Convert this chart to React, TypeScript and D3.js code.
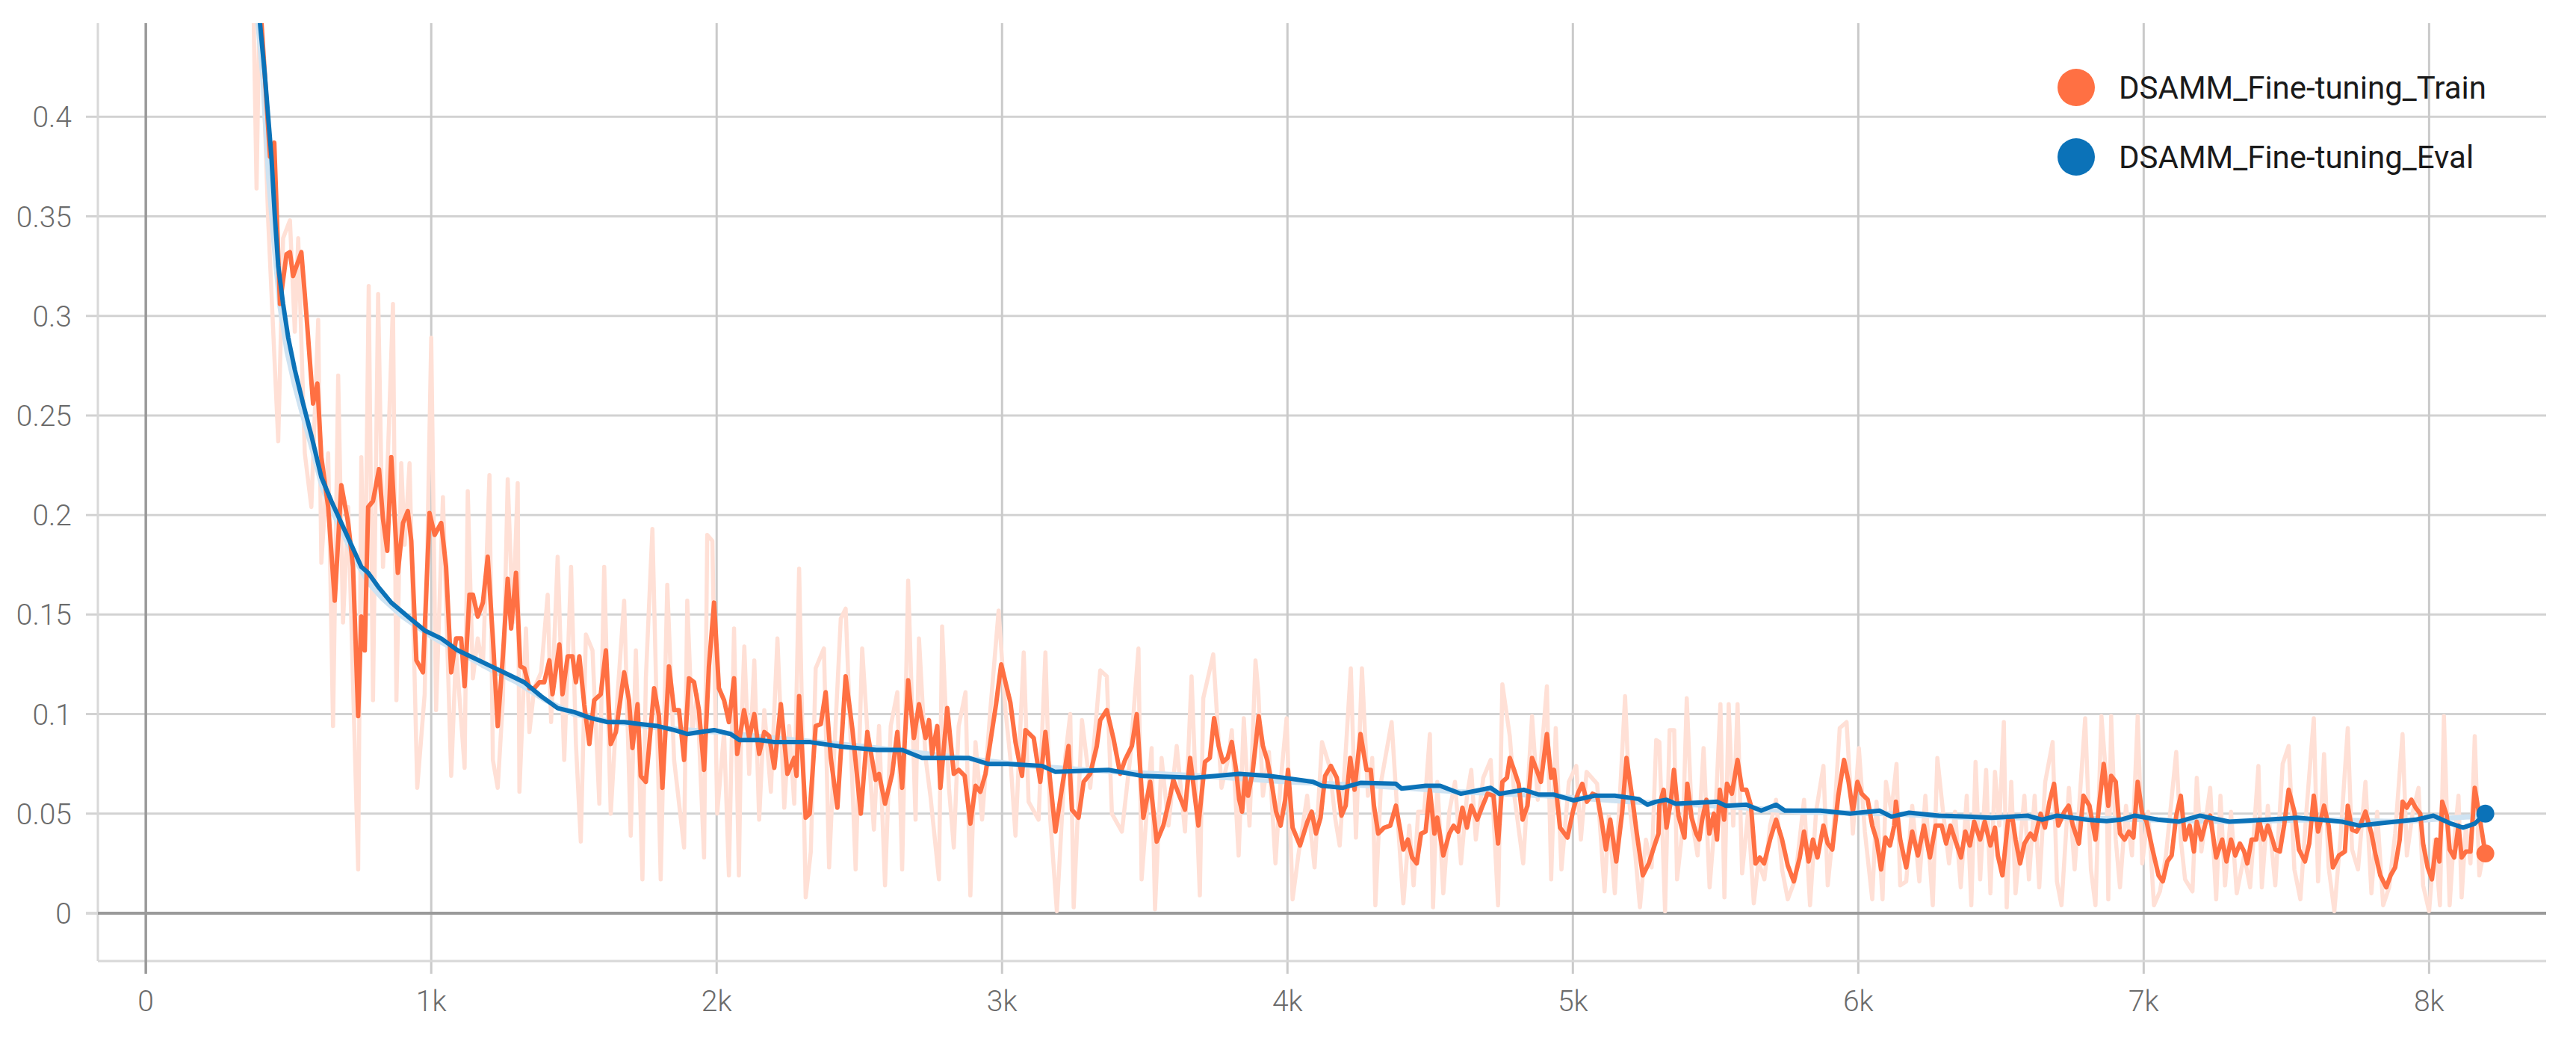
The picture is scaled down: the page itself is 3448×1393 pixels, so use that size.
import React from 'react';
import * as d3 from 'd3';

// training curves: [step, loss]
const trainSmoothed: Array<[number, number]> = [
  [360, 0.56], [395, 0.47], [417, 0.421], [435, 0.38], [450, 0.387], [470, 0.306], [493, 0.331], [505, 0.332],
  [516, 0.32], [528, 0.325], [545, 0.332], [563, 0.3], [586, 0.256], [601, 0.266], [615, 0.229], [639, 0.204],
  [662, 0.157], [685, 0.215], [709, 0.196], [726, 0.174], [744, 0.099], [755, 0.149], [767, 0.132], [779, 0.204],
  [796, 0.207], [817, 0.223], [831, 0.198], [846, 0.182], [860, 0.229], [883, 0.171], [901, 0.196], [918, 0.202],
  [930, 0.187], [948, 0.127], [971, 0.121], [994, 0.201], [1012, 0.19], [1035, 0.196], [1052, 0.174], [1070, 0.121],
  [1087, 0.138], [1105, 0.138], [1117, 0.114], [1134, 0.16], [1146, 0.16], [1163, 0.149], [1181, 0.156], [1198, 0.179],
  [1216, 0.138], [1233, 0.094], [1251, 0.129], [1268, 0.168], [1280, 0.143], [1297, 0.171], [1312, 0.124], [1326, 0.123],
  [1344, 0.113], [1361, 0.113], [1379, 0.116], [1396, 0.116], [1414, 0.127], [1425, 0.11], [1449, 0.135], [1460, 0.11],
  [1478, 0.129], [1495, 0.129], [1507, 0.116], [1519, 0.129], [1536, 0.105], [1554, 0.085], [1571, 0.107], [1594, 0.11],
  [1612, 0.132], [1629, 0.085], [1647, 0.091], [1676, 0.121], [1693, 0.107], [1705, 0.083], [1723, 0.105], [1734, 0.069],
  [1752, 0.066], [1763, 0.083], [1781, 0.113], [1798, 0.099], [1810, 0.063], [1833, 0.124], [1851, 0.102], [1868, 0.102],
  [1886, 0.077], [1903, 0.118], [1921, 0.116], [1938, 0.102], [1956, 0.072], [1973, 0.124], [1991, 0.156], [2008, 0.113],
  [2026, 0.107], [2043, 0.096], [2061, 0.118], [2072, 0.08], [2096, 0.102], [2114, 0.088], [2132, 0.1], [2149, 0.08],
  [2167, 0.091], [2184, 0.089], [2202, 0.073], [2225, 0.105], [2248, 0.07], [2272, 0.078], [2280, 0.069], [2289, 0.109],
  [2312, 0.048], [2326, 0.05], [2347, 0.094], [2365, 0.095], [2382, 0.111], [2400, 0.078], [2423, 0.053], [2452, 0.119],
  [2476, 0.092], [2505, 0.05], [2528, 0.091], [2557, 0.067], [2569, 0.07], [2590, 0.055], [2615, 0.07], [2633, 0.091],
  [2650, 0.063], [2671, 0.117], [2691, 0.088], [2709, 0.105], [2732, 0.088], [2744, 0.097], [2755, 0.08], [2773, 0.094],
  [2784, 0.063], [2808, 0.103], [2831, 0.07], [2848, 0.072], [2869, 0.069], [2889, 0.045], [2907, 0.064], [2924, 0.061],
  [2942, 0.07], [2959, 0.086], [2979, 0.105], [2997, 0.125], [3012, 0.116], [3029, 0.106], [3047, 0.086], [3070, 0.069],
  [3082, 0.092], [3111, 0.088], [3134, 0.066], [3152, 0.091], [3169, 0.066], [3187, 0.041], [3210, 0.063], [3233, 0.084],
  [3245, 0.052], [3268, 0.048], [3286, 0.066], [3309, 0.07], [3332, 0.084], [3344, 0.097], [3367, 0.102], [3390, 0.088],
  [3414, 0.07], [3431, 0.077], [3455, 0.084], [3472, 0.1], [3495, 0.048], [3519, 0.066], [3542, 0.036], [3565, 0.044],
  [3589, 0.059], [3600, 0.067], [3624, 0.058], [3641, 0.052], [3659, 0.078], [3688, 0.044], [3711, 0.076], [3728, 0.078],
  [3743, 0.098], [3759, 0.084], [3774, 0.076], [3790, 0.078], [3805, 0.086], [3820, 0.072], [3831, 0.057], [3841, 0.051],
  [3852, 0.069], [3862, 0.059], [3878, 0.071], [3888, 0.084], [3899, 0.099], [3914, 0.084], [3929, 0.077], [3945, 0.065],
  [3960, 0.051], [3976, 0.044], [3992, 0.057], [4002, 0.072], [4018, 0.043], [4044, 0.034], [4070, 0.046], [4085, 0.051],
  [4100, 0.04], [4116, 0.048], [4132, 0.069], [4152, 0.074], [4173, 0.068], [4189, 0.049], [4204, 0.054], [4220, 0.078],
  [4235, 0.062], [4256, 0.09], [4277, 0.072], [4292, 0.072], [4303, 0.054], [4318, 0.04], [4339, 0.043], [4360, 0.044],
  [4380, 0.054], [4396, 0.041], [4406, 0.032], [4422, 0.037], [4437, 0.028], [4453, 0.025], [4468, 0.04], [4484, 0.041],
  [4499, 0.062], [4515, 0.04], [4525, 0.048], [4546, 0.029], [4567, 0.04], [4582, 0.044], [4598, 0.041], [4613, 0.053],
  [4629, 0.043], [4644, 0.054], [4665, 0.047], [4681, 0.053], [4701, 0.06], [4722, 0.059], [4738, 0.035], [4753, 0.066],
  [4769, 0.068], [4779, 0.078], [4794, 0.072], [4810, 0.065], [4824, 0.047], [4841, 0.054], [4857, 0.078], [4873, 0.072],
  [4888, 0.066], [4909, 0.09], [4924, 0.068], [4934, 0.072], [4955, 0.043], [4981, 0.038], [5000, 0.051], [5017, 0.06],
  [5033, 0.065], [5049, 0.056], [5069, 0.06], [5085, 0.059], [5100, 0.047], [5116, 0.032], [5131, 0.047], [5152, 0.026],
  [5173, 0.051], [5188, 0.078], [5209, 0.057], [5224, 0.04], [5245, 0.019], [5266, 0.025], [5286, 0.034], [5300, 0.04],
  [5303, 0.054], [5318, 0.062], [5328, 0.043], [5344, 0.057], [5354, 0.072], [5370, 0.049], [5391, 0.038], [5401, 0.065],
  [5416, 0.048], [5432, 0.04], [5443, 0.037], [5453, 0.047], [5468, 0.057], [5478, 0.04], [5494, 0.05], [5505, 0.037],
  [5515, 0.062], [5530, 0.047], [5540, 0.065], [5557, 0.06], [5577, 0.077], [5593, 0.062], [5608, 0.062], [5624, 0.054],
  [5640, 0.025], [5655, 0.028], [5670, 0.025], [5691, 0.037], [5712, 0.047], [5733, 0.037], [5753, 0.024], [5774, 0.016],
  [5795, 0.028], [5810, 0.041], [5826, 0.026], [5841, 0.037], [5857, 0.028], [5878, 0.044], [5893, 0.035], [5909, 0.032],
  [5930, 0.059], [5950, 0.077], [5966, 0.066], [5981, 0.051], [5997, 0.066], [6012, 0.06], [6033, 0.057], [6049, 0.044],
  [6064, 0.037], [6080, 0.022], [6095, 0.038], [6111, 0.034], [6126, 0.044], [6132, 0.056], [6147, 0.037], [6168, 0.023],
  [6189, 0.041], [6209, 0.029], [6230, 0.044], [6251, 0.028], [6271, 0.044], [6292, 0.044], [6308, 0.035], [6323, 0.044],
  [6339, 0.037], [6360, 0.028], [6375, 0.041], [6391, 0.034], [6406, 0.046], [6427, 0.037], [6443, 0.046], [6463, 0.034],
  [6479, 0.043], [6489, 0.029], [6505, 0.019], [6525, 0.047], [6541, 0.047], [6551, 0.037], [6567, 0.025], [6582, 0.035],
  [6603, 0.04], [6618, 0.037], [6639, 0.05], [6654, 0.043], [6670, 0.056], [6686, 0.065], [6701, 0.044], [6722, 0.051],
  [6737, 0.054], [6752, 0.044], [6773, 0.035], [6789, 0.059], [6810, 0.054], [6831, 0.037], [6846, 0.057], [6860, 0.075],
  [6876, 0.054], [6886, 0.069], [6902, 0.066], [6917, 0.04], [6933, 0.037], [6948, 0.041], [6964, 0.038], [6979, 0.066],
  [6995, 0.05], [7010, 0.046], [7031, 0.032], [7052, 0.019], [7067, 0.016], [7083, 0.026], [7098, 0.029], [7114, 0.049],
  [7130, 0.059], [7145, 0.037], [7161, 0.044], [7176, 0.031], [7186, 0.046], [7202, 0.037], [7218, 0.046], [7233, 0.049],
  [7254, 0.028], [7275, 0.037], [7290, 0.026], [7306, 0.037], [7321, 0.029], [7337, 0.035], [7352, 0.031], [7363, 0.025],
  [7378, 0.037], [7394, 0.037], [7404, 0.047], [7420, 0.037], [7435, 0.044], [7451, 0.037], [7461, 0.032], [7477, 0.031],
  [7492, 0.044], [7508, 0.062], [7528, 0.051], [7544, 0.032], [7565, 0.026], [7580, 0.035], [7596, 0.059], [7611, 0.041],
  [7632, 0.054], [7648, 0.044], [7663, 0.023], [7684, 0.029], [7705, 0.031], [7715, 0.054], [7730, 0.042], [7746, 0.041],
  [7761, 0.045], [7777, 0.051], [7798, 0.04], [7813, 0.029], [7829, 0.019], [7850, 0.013], [7865, 0.019], [7881, 0.023],
  [7897, 0.037], [7907, 0.056], [7922, 0.053], [7938, 0.057], [7953, 0.053], [7969, 0.05], [7979, 0.035], [7995, 0.023],
  [8010, 0.017], [8026, 0.037], [8036, 0.026], [8046, 0.056], [8062, 0.049], [8072, 0.032], [8088, 0.028], [8103, 0.044],
  [8114, 0.028], [8129, 0.031], [8145, 0.031], [8160, 0.063], [8176, 0.049], [8197, 0.03],
];

const trainRaw: Array<[number, number]> = [
  [360, 0.6], [388, 0.364], [400, 0.47], [429, 0.347], [464, 0.237], [481, 0.339], [505, 0.348], [522, 0.292],
  [534, 0.339], [557, 0.231], [580, 0.204], [604, 0.298], [615, 0.176], [639, 0.231], [656, 0.094], [674, 0.27],
  [691, 0.146], [709, 0.204], [744, 0.022], [755, 0.229], [767, 0.146], [781, 0.315], [796, 0.107], [814, 0.311],
  [831, 0.174], [848, 0.229], [866, 0.306], [878, 0.107], [895, 0.226], [907, 0.185], [924, 0.226], [951, 0.063],
  [977, 0.11], [1000, 0.289], [1017, 0.102], [1041, 0.209], [1070, 0.069], [1087, 0.132], [1117, 0.073], [1128, 0.212],
  [1146, 0.118], [1163, 0.138], [1181, 0.124], [1204, 0.22], [1216, 0.077], [1233, 0.063], [1251, 0.107], [1268, 0.218],
  [1286, 0.146], [1303, 0.216], [1309, 0.061], [1332, 0.143], [1344, 0.091], [1361, 0.113], [1385, 0.121], [1408, 0.16],
  [1420, 0.096], [1443, 0.179], [1466, 0.077], [1490, 0.174], [1507, 0.085], [1524, 0.036], [1542, 0.14], [1565, 0.132],
  [1589, 0.055], [1606, 0.174], [1629, 0.05], [1653, 0.11], [1676, 0.157], [1699, 0.039], [1717, 0.132], [1740, 0.017],
  [1752, 0.118], [1775, 0.193], [1804, 0.017], [1827, 0.165], [1851, 0.077], [1886, 0.033], [1897, 0.157], [1915, 0.091],
  [1932, 0.11], [1956, 0.028], [1967, 0.19], [1985, 0.187], [2002, 0.05], [2026, 0.091], [2043, 0.019], [2061, 0.143],
  [2078, 0.019], [2085, 0.086], [2097, 0.134], [2114, 0.07], [2132, 0.127], [2149, 0.047], [2167, 0.102], [2190, 0.061],
  [2213, 0.138], [2237, 0.053], [2254, 0.094], [2272, 0.055], [2289, 0.173], [2312, 0.008], [2330, 0.031], [2347, 0.123],
  [2376, 0.133], [2394, 0.023], [2411, 0.078], [2435, 0.148], [2452, 0.153], [2487, 0.022], [2510, 0.133], [2534, 0.078],
  [2551, 0.042], [2569, 0.094], [2590, 0.014], [2610, 0.094], [2633, 0.111], [2650, 0.022], [2671, 0.167], [2697, 0.047],
  [2709, 0.138], [2732, 0.078], [2749, 0.059], [2779, 0.017], [2790, 0.144], [2814, 0.063], [2831, 0.033], [2848, 0.094],
  [2872, 0.111], [2889, 0.009], [2907, 0.086], [2930, 0.047], [2959, 0.102], [2988, 0.152], [3012, 0.102], [3029, 0.078],
  [3047, 0.039], [3076, 0.131], [3093, 0.056], [3128, 0.047], [3152, 0.131], [3169, 0.047], [3192, 0.001], [3221, 0.078],
  [3239, 0.1], [3251, 0.003], [3280, 0.097], [3309, 0.063], [3344, 0.122], [3367, 0.119], [3385, 0.05], [3420, 0.041],
  [3449, 0.078], [3478, 0.133], [3489, 0.017], [3524, 0.083], [3536, 0.002], [3559, 0.078], [3583, 0.044], [3612, 0.084],
  [3641, 0.041], [3664, 0.119], [3693, 0.009], [3705, 0.108], [3740, 0.13], [3769, 0.063], [3793, 0.078], [3805, 0.092],
  [3829, 0.029], [3847, 0.098], [3867, 0.044], [3888, 0.127], [3898, 0.111], [3914, 0.059], [3935, 0.081], [3958, 0.025],
  [3976, 0.066], [3997, 0.098], [4018, 0.007], [4038, 0.029], [4069, 0.059], [4095, 0.023], [4121, 0.086], [4147, 0.074],
  [4168, 0.047], [4183, 0.034], [4204, 0.081], [4222, 0.123], [4240, 0.038], [4261, 0.123], [4282, 0.059], [4297, 0.078],
  [4308, 0.004], [4328, 0.066], [4365, 0.096], [4391, 0.037], [4406, 0.005], [4427, 0.044], [4442, 0.014], [4458, 0.051],
  [4479, 0.051], [4499, 0.09], [4510, 0.003], [4525, 0.066], [4546, 0.01], [4567, 0.051], [4587, 0.066], [4608, 0.025],
  [4629, 0.059], [4644, 0.072], [4660, 0.037], [4686, 0.068], [4712, 0.077], [4738, 0.004], [4753, 0.115], [4779, 0.089],
  [4795, 0.059], [4826, 0.025], [4857, 0.099], [4877, 0.057], [4909, 0.114], [4924, 0.017], [4940, 0.093], [4960, 0.022],
  [4986, 0.066], [5012, 0.074], [5028, 0.037], [5048, 0.071], [5085, 0.065], [5111, 0.011], [5126, 0.049], [5147, 0.01],
  [5183, 0.109], [5199, 0.054], [5219, 0.029], [5235, 0.003], [5256, 0.037], [5276, 0.023], [5292, 0.087], [5303, 0.086],
  [5323, 0.001], [5339, 0.092], [5355, 0.092], [5365, 0.017], [5386, 0.044], [5399, 0.108], [5417, 0.047], [5437, 0.029],
  [5458, 0.083], [5479, 0.013], [5500, 0.051], [5517, 0.105], [5531, 0.008], [5546, 0.105], [5562, 0.044], [5577, 0.105],
  [5593, 0.02], [5614, 0.051], [5634, 0.005], [5650, 0.026], [5671, 0.017], [5691, 0.044], [5712, 0.057], [5733, 0.022],
  [5753, 0.007], [5779, 0.017], [5810, 0.057], [5831, 0.004], [5852, 0.051], [5878, 0.074], [5893, 0.014], [5914, 0.044],
  [5935, 0.093], [5959, 0.096], [5981, 0.04], [6002, 0.083], [6023, 0.041], [6049, 0.007], [6064, 0.056], [6085, 0.007],
  [6097, 0.066], [6116, 0.051], [6134, 0.075], [6147, 0.014], [6168, 0.016], [6189, 0.054], [6214, 0.016], [6235, 0.059],
  [6261, 0.004], [6277, 0.078], [6297, 0.051], [6318, 0.025], [6339, 0.051], [6359, 0.013], [6380, 0.059], [6396, 0.004],
  [6411, 0.076], [6427, 0.017], [6448, 0.072], [6463, 0.01], [6479, 0.071], [6494, 0.044], [6510, 0.096], [6520, 0.003],
  [6536, 0.066], [6551, 0.01], [6582, 0.059], [6598, 0.017], [6618, 0.059], [6634, 0.013], [6655, 0.066], [6681, 0.086],
  [6696, 0.016], [6712, 0.004], [6738, 0.063], [6758, 0.022], [6774, 0.054], [6795, 0.098], [6815, 0.022], [6831, 0.004],
  [6852, 0.099], [6870, 0.066], [6876, 0.007], [6886, 0.099], [6902, 0.037], [6917, 0.013], [6938, 0.054], [6959, 0.029],
  [6979, 0.099], [6995, 0.025], [7016, 0.051], [7036, 0.004], [7057, 0.011], [7078, 0.029], [7114, 0.081], [7130, 0.037],
  [7145, 0.017], [7171, 0.011], [7186, 0.068], [7202, 0.031], [7233, 0.063], [7254, 0.007], [7269, 0.059], [7285, 0.014],
  [7306, 0.051], [7326, 0.01], [7352, 0.029], [7373, 0.013], [7402, 0.074], [7414, 0.013], [7435, 0.054], [7461, 0.014],
  [7487, 0.075], [7508, 0.084], [7528, 0.022], [7549, 0.007], [7570, 0.051], [7596, 0.098], [7611, 0.016], [7632, 0.08],
  [7648, 0.023], [7668, 0.001], [7689, 0.037], [7715, 0.093], [7730, 0.032], [7751, 0.022], [7777, 0.066], [7798, 0.01],
  [7818, 0.051], [7839, 0.004], [7860, 0.013], [7881, 0.04], [7907, 0.09], [7922, 0.029], [7943, 0.051], [7963, 0.063],
  [7979, 0.014], [8000, 0.001], [8020, 0.037], [8038, 0.004], [8052, 0.099], [8072, 0.004], [8083, 0.029], [8103, 0.059],
  [8114, 0.008], [8129, 0.044], [8145, 0.025], [8160, 0.089], [8176, 0.019], [8192, 0.031],
];

const evalSmoothed: Array<[number, number]> = [
  [380, 0.48], [400, 0.447], [417, 0.421], [440, 0.38], [452, 0.35], [464, 0.325], [481, 0.306], [499, 0.289],
  [522, 0.273], [551, 0.256], [580, 0.24], [615, 0.219], [650, 0.207], [685, 0.196], [720, 0.185], [755, 0.174],
  [779, 0.171], [814, 0.164], [860, 0.156], [918, 0.149], [977, 0.142], [1035, 0.138], [1093, 0.132], [1152, 0.128],
  [1210, 0.124], [1268, 0.12], [1326, 0.116], [1385, 0.109], [1443, 0.103], [1501, 0.101], [1559, 0.098], [1618, 0.096],
  [1676, 0.096], [1734, 0.095], [1793, 0.094], [1851, 0.092], [1897, 0.09], [1944, 0.091], [1991, 0.092], [2049, 0.09],
  [2080, 0.087], [2150, 0.087], [2200, 0.086], [2324, 0.086], [2440, 0.0836], [2560, 0.082], [2650, 0.082], [2720, 0.078],
  [2883, 0.078], [2950, 0.075], [3020, 0.075], [3140, 0.074], [3187, 0.071], [3373, 0.072], [3490, 0.069], [3676, 0.068],
  [3831, 0.07], [3935, 0.069], [3990, 0.068], [4090, 0.066], [4120, 0.064], [4194, 0.063], [4256, 0.0655], [4380, 0.065],
  [4400, 0.0626], [4484, 0.064], [4535, 0.064], [4608, 0.06], [4712, 0.063], [4743, 0.06], [4828, 0.062], [4880, 0.0596],
  [4932, 0.0596], [5002, 0.0567], [5075, 0.059], [5147, 0.059], [5230, 0.0574], [5261, 0.0545], [5290, 0.056], [5328, 0.057],
  [5360, 0.055], [5505, 0.056], [5536, 0.054], [5608, 0.0545], [5660, 0.0515], [5712, 0.0545], [5743, 0.0515], [5867, 0.0515],
  [5971, 0.05], [6075, 0.0515], [6116, 0.0485], [6178, 0.0505], [6282, 0.049], [6385, 0.0485], [6468, 0.048], [6593, 0.049],
  [6644, 0.047], [6696, 0.049], [6800, 0.047], [6870, 0.0463], [6920, 0.047], [6969, 0.049], [7050, 0.047], [7124, 0.046],
  [7197, 0.049], [7300, 0.046], [7435, 0.047], [7539, 0.048], [7694, 0.046], [7756, 0.044], [7850, 0.0455], [7953, 0.047],
  [8015, 0.049], [8077, 0.045], [8119, 0.043], [8160, 0.045], [8197, 0.05],
];

const evalRaw: Array<[number, number]> = [
  [385, 0.46], [410, 0.42], [430, 0.37], [450, 0.335], [470, 0.305], [495, 0.282], [520, 0.266], [550, 0.25],
  [585, 0.232], [620, 0.213], [660, 0.2], [700, 0.188], [740, 0.176], [780, 0.166], [830, 0.158], [900, 0.149],
  [1000, 0.139], [1100, 0.131], [1200, 0.123], [1300, 0.116], [1400, 0.107], [1500, 0.1], [1600, 0.097], [1800, 0.093],
  [2000, 0.091], [2200, 0.088], [2500, 0.084], [2800, 0.079], [3100, 0.074], [3400, 0.071], [3700, 0.069], [4000, 0.066],
  [4300, 0.064], [4600, 0.061], [4900, 0.059], [5200, 0.056], [5500, 0.054], [5800, 0.051], [6100, 0.05], [6400, 0.048],
  [6700, 0.048], [7000, 0.047], [7300, 0.046], [7600, 0.047], [7900, 0.046], [8197, 0.049],
];

const yTicks = [0, 0.05, 0.1, 0.15, 0.2, 0.25, 0.3, 0.35, 0.4];
const yTickLabels = ['0', '0.05', '0.1', '0.15', '0.2', '0.25', '0.3', '0.35', '0.4'];
const xTicks = [0, 1000, 2000, 3000, 4000, 5000, 6000, 7000, 8000];
const xTickLabels = ['0', '1k', '2k', '3k', '4k', '5k', '6k', '7k', '8k'];
const seriesNames = ['DSAMM_Fine-tuning_Train', 'DSAMM_Fine-tuning_Eval'];
const seriesColors = ['#ff7043', '#0b72b8'];

const W = 3448;
const H = 1393;
const frame = { left: 131, right: 3408, top: 31, bottom: 1286 };

export default function App() {
  const x = d3.scaleLinear().domain([-168, 8410]).range([frame.left, frame.right]);
  const y = d3.scaleLinear().domain([-0.024, 0.447]).range([frame.bottom, frame.top]);

  const line = d3
    .line<[number, number]>()
    .x(d => x(d[0]))
    .y(d => y(d[1]));

  const trainLast = trainSmoothed[trainSmoothed.length - 1];
  const evalLast = evalSmoothed[evalSmoothed.length - 1];
  const font = 'Roboto, "Helvetica Neue", Arial, sans-serif';

  return (
    <div style={{ position: 'absolute', left: 0, top: 0, background: '#fff' }}>
      <svg width={W} height={H} style={{ display: 'block' }}>
        <defs>
          <clipPath id="plot-clip">
            <rect x={frame.left} y={frame.top} width={frame.right - frame.left} height={frame.bottom - frame.top} />
          </clipPath>
        </defs>
        <rect width={W} height={H} fill="#fff" />

        {/* grid */}
        {yTicks.filter(t => t !== 0).map(t => (
          <line key={'gy' + t} x1={frame.left - 16} x2={frame.right} y1={y(t)} y2={y(t)} stroke="#d2d2d2" strokeWidth={3} />
        ))}
        {xTicks.filter(t => t !== 0).map(t => (
          <line key={'gx' + t} x1={x(t)} x2={x(t)} y1={frame.top} y2={frame.bottom + 17} stroke="#cacaca" strokeWidth={3} />
        ))}
        {/* frame */}
        <line x1={frame.left} x2={frame.left} y1={frame.top} y2={frame.bottom} stroke="#d8d8d8" strokeWidth={3} />
        <line x1={frame.left} x2={frame.right} y1={frame.bottom} y2={frame.bottom} stroke="#d8d8d8" strokeWidth={3} />
        {/* zero lines */}
        <line x1={frame.left - 16} x2={frame.left} y1={y(0)} y2={y(0)} stroke="#d8d8d8" strokeWidth={4} />
        <line x1={frame.left} x2={frame.right} y1={y(0)} y2={y(0)} stroke="#9a9a9a" strokeWidth={4} />
        <line x1={x(0)} x2={x(0)} y1={frame.top} y2={frame.bottom + 17} stroke="#9a9a9a" strokeWidth={3.5} />

        {/* axis labels */}
        {yTicks.map((t, i) => (
          <text key={'ly' + t} x={96} y={y(t)} dy="0.36em" textAnchor="end" fontFamily={font} fontWeight={300}
            fontSize={39} fill="#6b6b6b">{yTickLabels[i]}</text>
        ))}
        {xTicks.map((t, i) => (
          <text key={'lx' + t} x={x(t)} y={1353} textAnchor="middle" fontFamily={font} fontWeight={300}
            fontSize={39} fill="#6b6b6b">{xTickLabels[i]}</text>
        ))}

        <g clipPath="url(#plot-clip)" fill="none" strokeLinejoin="round">
          <path d={line(trainRaw) || ''} stroke="#ffe0d6" strokeWidth={5.5} />
          <path d={line(evalRaw) || ''} stroke="#cfe3f2" strokeWidth={7} />
          <path d={line(trainSmoothed) || ''} stroke={seriesColors[0]} strokeWidth={6} />
          <path d={line(evalSmoothed) || ''} stroke={seriesColors[1]} strokeWidth={6} />
        </g>
        <circle cx={x(trainLast[0])} cy={y(trainLast[1])} r={12} fill={seriesColors[0]} />
        <circle cx={x(evalLast[0])} cy={y(evalLast[1])} r={12} fill={seriesColors[1]} />

        {/* legend */}
        {seriesNames.map((name, i) => (
          <g key={name} transform={`translate(2779, ${117 + i * 93})`}>
            <circle r={25} fill={seriesColors[i]} />
            <text x={57} dy="0.36em" fontFamily={font} fontSize={42} fill="#1a1a1a">{name}</text>
          </g>
        ))}
      </svg>
    </div>
  );
}
